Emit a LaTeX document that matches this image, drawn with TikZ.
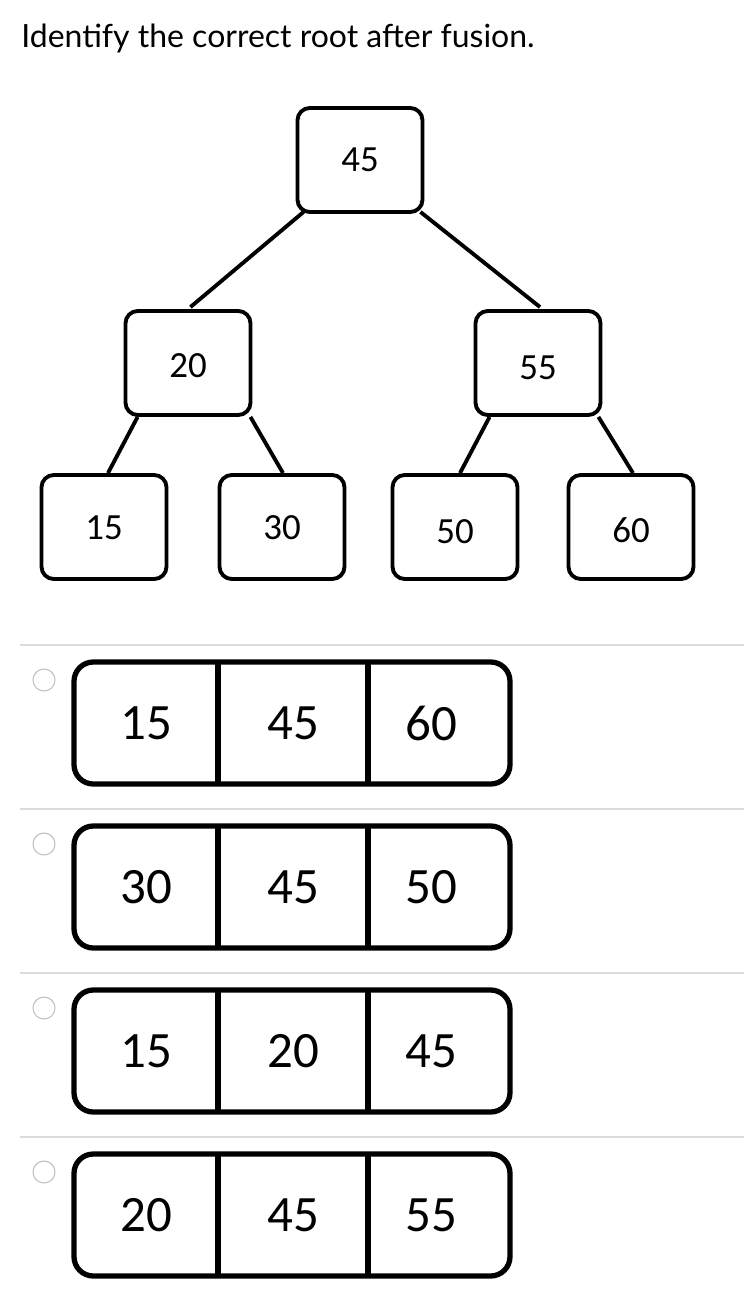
\documentclass[tikz,border=0pt]{standalone}
\usepackage{fontspec}
\setmainfont{Carlito}
\newfontfamily\latofont{Lato}
\usetikzlibrary{positioning}

\tikzset{
  treenode/.style={draw, line width=2.2pt, rounded corners=7pt, minimum width=125\px, minimum height=104\px, inner sep=0pt},
  optbox/.style={draw, line width=3pt, rounded corners=11pt},
  sepline/.style={draw=black!14, line width=1pt},
  radio/.style={draw=black!25, fill=white, circle, minimum size=22\px, inner sep=0pt, line width=0.6pt},
}
\newlength{\px}\setlength{\px}{0.02cm}

\begin{document}
\begin{tikzpicture}[x=0.02cm, y=-0.02cm, > = stealth]
\useasboundingbox (0,0) rectangle (744,1312);

\node[anchor=west, inner sep=0pt, font=\latofont\fontsize{18.2pt}{21pt}\selectfont] (title) at (21,38) {Identify the correct root after fusion.};

% tree
\node[treenode] (n45) at (360,160) {};
\node[treenode] (n20) at (188,363) {};
\node[treenode] (n55) at (538,363) {};
\node[treenode] (n15) at (104,527) {};
\node[treenode] (n30) at (282,527) {};
\node[treenode] (n50) at (455,527) {};
\node[treenode] (n60) at (631,527) {};

\foreach \n/\t/\dy in {n45/45/0, n20/20/3, n55/55/5, n15/15/1, n30/30/1, n50/50/5, n60/60/3}
  \node[font=\fontsize{21pt}{24pt}\selectfont] at ([yshift=-\dy\px]\n.center) {\t};

\draw[line width=2.2pt] (n45.south west) ++(8,-2) -- ([xshift=-62\px,yshift=2\px]n20.north east);
\draw[line width=2.2pt] (n45.south east) ++(-4,-2) -- ([xshift=2\px,yshift=2\px]n55.north);
\draw[line width=2.2pt] ([xshift=14\px]n20.south west) -- ([xshift=4\px]n15.north);
\draw[line width=2.2pt] ([xshift=-2\px]n20.south east) -- ([xshift=1\px]n30.north);
\draw[line width=2.2pt] ([xshift=16\px]n55.south west) -- ([xshift=5\px]n50.north);
\draw[line width=2.2pt] ([xshift=-4\px]n55.south east) -- ([xshift=2\px]n60.north);

% answer options
\foreach \i/\a/\b/\c in {0/15/45/60, 1/30/45/50, 2/15/20/45, 3/20/45/55} {
  \pgfmathsetmacro{\yy}{164*\i}
  \draw[sepline] (20,645+\yy) -- (744,645+\yy);
  \node[radio] (r\i) at (44,680+\yy) {};
  \draw[optbox] (74,662+\yy) rectangle (510,784+\yy);
  \draw[line width=3pt] (218,662+\yy) -- (218,784+\yy);
  \draw[line width=3pt] (368,662+\yy) -- (368,784+\yy);
  \node[font=\fontsize{29pt}{32pt}\selectfont] (a\i) at (146,723+\yy) {\a};
  \node[font=\fontsize{29pt}{32pt}\selectfont] (b\i) at (293,723+\yy) {\b};
  \node[font=\fontsize{29pt}{32pt}\selectfont] (c\i) at (431,723+\yy) {\c};
}
\end{tikzpicture}
\end{document}
